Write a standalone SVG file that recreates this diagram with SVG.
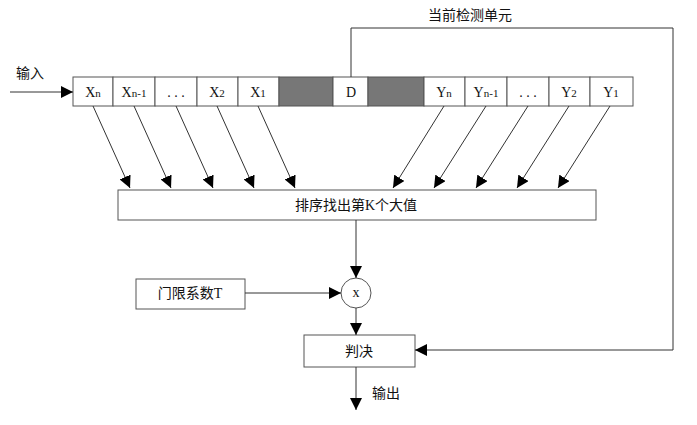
<svg xmlns="http://www.w3.org/2000/svg" width="697" height="425" viewBox="0 0 697 425">
<style>
.b{fill:#fff;stroke:#555;stroke-width:1}
.g{fill:#777;stroke:#555}
.l{stroke:#333;stroke-width:1;fill:none}
text{font-family:"Liberation Serif","Noto Sans CJK SC",serif;font-size:14px;fill:#111;text-anchor:middle}
</style>
<defs><marker id="a" markerWidth="12" markerHeight="12" refX="12" refY="6" orient="auto" markerUnits="userSpaceOnUse"><path d="M0,0L12,6L0,12z" fill="#000"/></marker></defs>
<rect width="697" height="425" fill="#fff"/>
<g id="cells">
<rect class="b" x="73" y="77" width="40" height="29"/><text x="93" y="97">X<tspan font-size="11">n</tspan></text>
<rect class="b" x="113" y="77" width="42" height="29"/><text x="134" y="97">X<tspan font-size="11">n-1</tspan></text>
<rect class="b" x="155" y="77" width="42" height="29"/><text x="176" y="97">. . .</text>
<rect class="b" x="197" y="77" width="41" height="29"/><text x="217" y="97">X<tspan font-size="11">2</tspan></text>
<rect class="b" x="238" y="77" width="41" height="29"/><text x="258" y="97">X<tspan font-size="11">1</tspan></text>
<rect class="g" x="279" y="77" width="54" height="29"/>
<rect class="b" x="333" y="77" width="35" height="29"/><text x="351" y="97">D</text>
<rect class="g" x="368" y="77" width="56" height="29"/>
<rect class="b" x="424" y="77" width="41" height="29"/><text x="444" y="97">Y<tspan font-size="11">n</tspan></text>
<rect class="b" x="465" y="77" width="42" height="29"/><text x="486" y="97">Y<tspan font-size="11">n-1</tspan></text>
<rect class="b" x="507" y="77" width="42" height="29"/><text x="528" y="97">. . .</text>
<rect class="b" x="549" y="77" width="41" height="29"/><text x="569" y="97">Y<tspan font-size="11">2</tspan></text>
<rect class="b" x="590" y="77" width="43" height="29"/><text x="611" y="97">Y<tspan font-size="11">1</tspan></text>
</g>
<g id="sort"><rect class="b" x="118" y="190" width="478" height="30"/><text x="356" y="210">排序找出第K个大值</text></g>
<g id="mult"><circle class="b" cx="356" cy="293" r="15"/><text x="356" y="297">x</text></g>
<g id="thr"><rect class="b" x="136" y="279" width="109" height="30"/><text x="190" y="298">门限系数T</text></g>
<g id="dec"><rect class="b" x="304" y="335" width="111" height="32"/><text x="359" y="356">判决</text></g>
<g id="labels">
<text x="30" y="78">输入</text>
<text x="470" y="20">当前检测单元</text>
<text x="386" y="398">输出</text>
</g>
<g id="connectors" class="l" marker-end="url(#a)">
<path d="M10,92H73"/>
<path d="M93,106L130,188"/><path d="M134,106L171,188"/><path d="M176,106L213,188"/><path d="M217,106L254,188"/><path d="M258,106L295,188"/>
<path d="M444,106L393,188"/><path d="M486,106L434,188"/><path d="M528,106L476,188"/><path d="M569,106L517,188"/><path d="M610,106L558,188"/>
<path d="M356,220V278"/><path d="M245,293H341"/><path d="M356,308V335"/><path d="M356,367V410"/>
<path d="M351,77V28H673V350H415"/>
</g>
</svg>
